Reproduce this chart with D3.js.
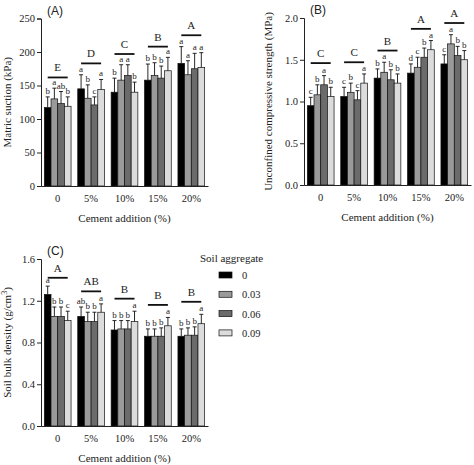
<!DOCTYPE html>
<html>
<head>
<meta charset="utf-8">
<script src="https://cdn.jsdelivr.net/npm/d3@7/dist/d3.min.js"></script>
<style>
  body { margin: 0; background: #fff; }
  svg text { font-family: "Liberation Serif", "DejaVu Serif", serif; fill: #222; }
  .plab { font-family: "Liberation Sans", Arial, sans-serif !important; }
</style>
</head>
<body>
<svg id="chart" width="474" height="465"></svg>
<script>
// categories and series
var cement = ["0", "5%", "10%", "15%", "20%"];
var aggregates = ["0", "0.03", "0.06", "0.09"];
var fills = ["#000000", "#9a9a9a", "#6b6b6b", "#dcdcdc"];

// (A) matric suction, kPa : [mean per aggregate] for each cement level
var suctionMean = [[117, 130, 123, 119], [145, 131, 121, 144], [140, 158, 165, 140], [158, 165, 161, 172], [183, 166, 175, 177]];
var suctionTop  = [[133, 146, 141, 133], [166, 151, 133, 159], [161, 181, 181, 155], [182, 184, 179, 192], [208, 187, 198, 199]];
var suctionLetters = [["b","a","ab","b"], ["a","b","c","a"], ["b","a","a","b"], ["b","b","b","a"], ["a","a","a","a"]];
var suctionGroup = ["E", "D", "C", "B", "A"];
var suctionLine = [162, 183, 197, 208, 225];

// (B) unconfined compressive strength, MPa
var ucsMean = [[0.95, 1.08, 1.20, 1.06], [1.06, 1.11, 1.02, 1.22], [1.28, 1.35, 1.26, 1.22], [1.34, 1.41, 1.53, 1.62], [1.45, 1.69, 1.55, 1.50]];
var ucsTop  = [[1.05, 1.20, 1.31, 1.17], [1.17, 1.22, 1.13, 1.33], [1.39, 1.47, 1.38, 1.33], [1.45, 1.53, 1.64, 1.73], [1.56, 1.80, 1.66, 1.61]];
var ucsLetters = [["c","b","a","b"], ["c","b","c","a"], ["b","a","b","b"], ["d","c","b","a"], ["c","a","b","b"]];
var ucsGroup = ["C", "C", "B", "A", "A"];
var ucsLine = [1.46, 1.47, 1.61, 1.87, 1.94];

// (C) soil bulk density, g/cm3
var densMean = [[1.26, 1.05, 1.05, 1.01], [1.05, 1.00, 1.00, 1.09], [0.92, 0.93, 0.93, 1.00], [0.86, 0.86, 0.86, 0.96], [0.86, 0.87, 0.87, 0.98]];
var densTop  = [[1.34, 1.14, 1.14, 1.10], [1.14, 1.09, 1.09, 1.17], [1.01, 1.01, 1.01, 1.10], [0.93, 0.93, 0.94, 1.04], [0.93, 0.94, 0.95, 1.07]];
var densLetters = [["a","b","b","c"], ["ab","b","b","a"], ["b","b","b","a"], ["b","b","b","a"], ["b","b","b","a"]];
var densGroup = ["A", "AB", "B", "B", "B"];
var densLine = [1.42, 1.29, 1.22, 1.16, 1.19];

var svg = d3.select("#chart");

function drawPanel(opt) {
	var g = svg.append("g");
	var x = d3.scaleBand().domain(cement).range([opt.x0, opt.x1]).paddingInner(0.2).paddingOuter(0.1);
	var xs = d3.scaleBand().domain(d3.range(aggregates.length)).range([0, x.bandwidth()]);
	var y = d3.scaleLinear().domain(opt.domain).range([opt.yb, opt.yt]);

	// bars
	cement.forEach(function(c, i) {
		var grp = g.append("g").attr("transform", "translate(" + x(c) + ",0)");
		var rows = opt.mean[i].map(function(v, j) {
			return {j: j, v: v, top: opt.top[i][j], lab: opt.letters[i][j]};
		});
		grp.selectAll("rect").data(rows).enter().append("rect")
			.attr("x", function(d) { return xs(d.j); })
			.attr("y", function(d) { return y(d.v); })
			.attr("width", xs.bandwidth())
			.attr("height", function(d) { return y(0) - y(d.v); })
			.attr("fill", function(d) { return fills[d.j]; })
			.attr("stroke", "#111").attr("stroke-width", 0.7);
		// error bars
		grp.selectAll("line.err").data(rows).enter().append("line")
			.attr("class", "err")
			.attr("x1", function(d) { return xs(d.j) + xs.bandwidth() / 2; })
			.attr("x2", function(d) { return xs(d.j) + xs.bandwidth() / 2; })
			.attr("y1", function(d) { return y(d.v); })
			.attr("y2", function(d) { return y(d.top); })
			.attr("stroke", "#111").attr("stroke-width", 0.9);
		grp.selectAll("line.cap").data(rows).enter().append("line")
			.attr("class", "cap")
			.attr("x1", function(d) { return xs(d.j) + xs.bandwidth() / 2 - 2; })
			.attr("x2", function(d) { return xs(d.j) + xs.bandwidth() / 2 + 2; })
			.attr("y1", function(d) { return y(d.top); })
			.attr("y2", function(d) { return y(d.top); })
			.attr("stroke", "#111").attr("stroke-width", 0.9);
		// significance letters
		grp.selectAll("text.sig").data(rows).enter().append("text")
			.attr("class", "sig")
			.attr("x", function(d) { return xs(d.j) + xs.bandwidth() / 2; })
			.attr("y", function(d) { return y(d.top) - 3; })
			.attr("text-anchor", "middle")
			.style("font-size", "9px")
			.text(function(d) { return d.lab; });
		// group bracket
		grp.append("line")
			.attr("x1", x.bandwidth() / 2 - 10).attr("x2", x.bandwidth() / 2 + 10)
			.attr("y1", y(opt.line[i])).attr("y2", y(opt.line[i]))
			.attr("stroke", "#111").attr("stroke-width", 1.8);
		grp.append("text")
			.attr("x", x.bandwidth() / 2).attr("y", y(opt.line[i]) - 6)
			.attr("text-anchor", "middle")
			.style("font-size", "11px")
			.text(opt.group[i]);
	});

	// axes
	var ya = g.append("g").attr("transform", "translate(" + opt.x0 + ",0)")
		.call(d3.axisLeft(y).tickValues(opt.ticks).tickFormat(opt.fmt).tickSize(4).tickPadding(2));
	ya.select(".domain").attr("stroke", "#222");
	ya.selectAll(".tick line").attr("stroke", "#222");
	ya.selectAll(".tick text").style("font-size", "10.5px").style("font-family", "Liberation Serif");
	var xa = g.append("g").attr("transform", "translate(0," + opt.yb + ")")
		.call(d3.axisBottom(x).tickSize(0).tickPadding(9).tickSizeOuter(0));
	xa.select(".domain").attr("stroke", "#222");
	xa.selectAll(".tick text").style("font-size", "10.5px").style("font-family", "Liberation Serif");

	g.append("text")
		.attr("x", (opt.x0 + opt.x1) / 2).attr("y", opt.yb + 36)
		.attr("text-anchor", "middle").style("font-size", "11px")
		.text("Cement addition (%)");
	var yl = g.append("text")
		.attr("transform", "translate(" + opt.ylx + "," + ((opt.yb + opt.yt) / 2) + ") rotate(-90)")
		.attr("text-anchor", "middle").style("font-size", "11px");
	opt.ylab(yl);
	g.append("text").attr("class", "plab")
		.attr("x", opt.x0 + 6).attr("y", opt.yt - 4)
		.style("font-size", "12px")
		.text(opt.name);
}

drawPanel({
	name: "(A)", x0: 41, x1: 208, yb: 186, yt: 18.5, domain: [0, 250],
	ticks: [0, 50, 100, 150, 200, 250], fmt: d3.format("d"),
	mean: suctionMean, top: suctionTop, letters: suctionLetters, group: suctionGroup, line: suctionLine,
	ylx: 11, ylab: function(t) { t.text("Matric suction (kPa)"); }
});
drawPanel({
	name: "(B)", x0: 304, x1: 471, yb: 185, yt: 18, domain: [0, 2],
	ticks: [0, 0.5, 1, 1.5, 2], fmt: d3.format(".1f"),
	mean: ucsMean, top: ucsTop, letters: ucsLetters, group: ucsGroup, line: ucsLine,
	ylx: 272, ylab: function(t) { t.text("Unconfined compressive strength  (MPa)"); }
});
drawPanel({
	name: "(C)", x0: 41, x1: 208, yb: 426, yt: 259, domain: [0, 1.6],
	ticks: [0, 0.4, 0.8, 1.2, 1.6], fmt: d3.format(".1f"),
	mean: densMean, top: densTop, letters: densLetters, group: densGroup, line: densLine,
	ylx: 11, ylab: function(t) {
		t.append("tspan").text("Soil bulk density (g/cm");
		t.append("tspan").attr("dy", -4).style("font-size", "8px").text("3");
		t.append("tspan").attr("dy", 4).text(")");
	}
});

// legend
var leg = svg.append("g");
leg.append("text").attr("x", 200).attr("y", 262).style("font-size", "11px").text("Soil aggregate");
leg.selectAll("rect").data(aggregates).enter().append("rect")
	.attr("x", 219).attr("y", function(d, i) { return 272 + i * 19.3; })
	.attr("width", 13).attr("height", 6)
	.attr("fill", function(d, i) { return fills[i]; })
	.attr("stroke", "#111").attr("stroke-width", 0.7);
leg.selectAll("text.li").data(aggregates).enter().append("text")
	.attr("class", "li")
	.attr("x", 242).attr("y", function(d, i) { return 279 + i * 19.3; })
	.style("font-size", "10.5px")
	.text(function(d) { return d; });
</script>
</body>
</html>
